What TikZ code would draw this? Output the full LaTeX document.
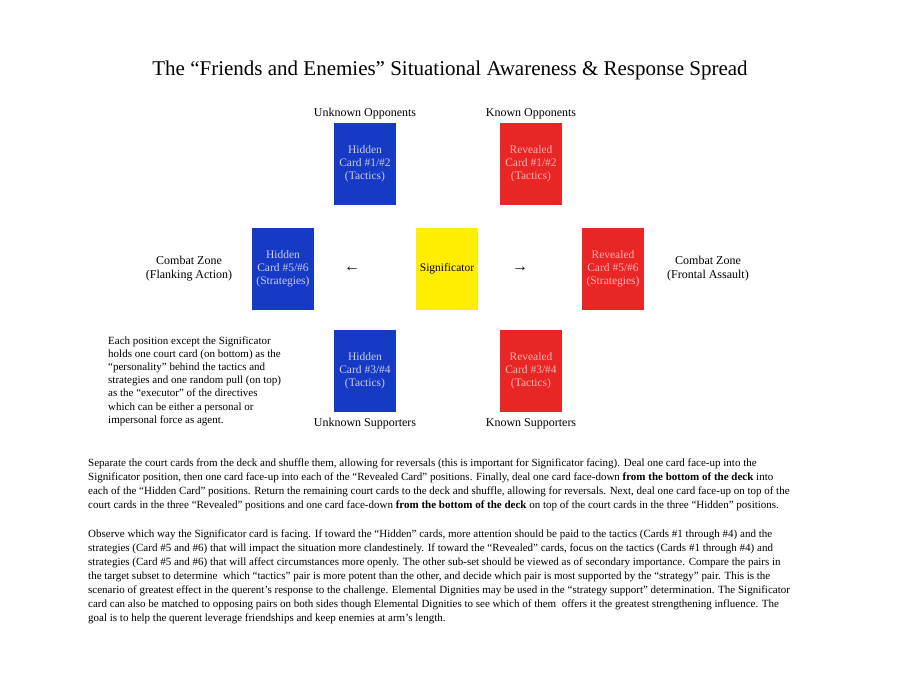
\documentclass[tikz,border=0pt]{standalone}
\usepackage{fontspec}
\setmainfont{Liberation Serif}
\begin{document}
\begin{tikzpicture}[x=1pt,y=-1pt,
 card/.style={minimum width=62pt,minimum height=82pt,inner sep=0pt,align=center,font=\fontsize{11.5}{13}\selectfont},
 hid/.style={card,fill=cblue,text=cbtext},
 rev/.style={card,fill=cred,text=crtext},
 lab/.style={font=\fontsize{12}{14}\selectfont,align=center},
 pl/.style={anchor=base west,inner sep=0pt,font=\fontsize{11}{13}\selectfont}]
\definecolor{cblue}{RGB}{22,58,196}
\definecolor{cred}{RGB}{232,38,38}
\definecolor{cyel}{RGB}{255,238,0}
\definecolor{cbtext}{RGB}{200,205,225}
\definecolor{crtext}{RGB}{245,180,180}
\useasboundingbox[fill=white] (0,0) rectangle (900,695);
\node[font=\fontsize{21}{24}\selectfont] (title) at (450,70) {The “Friends and Enemies” Situational Awareness \& Response Spread};
\node[hid] (h12) at (365,164) {Hidden\\Card \#1/\#2\\(Tactics)};
\node[rev] (r12) at (531,164) {Revealed\\Card \#1/\#2\\(Tactics)};
\node[hid] (h56) at (283,269) {Hidden\\Card \#5/\#6\\(Strategies)};
\node[card,fill=cyel] (sig) at (447,269) {Significator};
\node[rev] (r56) at (613,269) {Revealed\\Card \#5/\#6\\(Strategies)};
\node[hid] (h34) at (365,371) {Hidden\\Card \#3/\#4\\(Tactics)};
\node[rev] (r34) at (531,371) {Revealed\\Card \#3/\#4\\(Tactics)};
\node[lab] (uo) at (365,114) {Unknown Opponents};
\node[lab] (ko) at (531,114) {Known Opponents};
\node[lab] (us) at (365,424) {Unknown Supporters};
\node[lab] (ks) at (531,424) {Known Supporters};
\node[lab] (czl) at (189,269) {Combat Zone\\(Flanking Action)};
\node[lab] (czr) at (708,269) {Combat Zone\\(Frontal Assault)};
\node[font=\fontsize{16}{16}\selectfont] (al) at (352,269) {←};
\node[font=\fontsize{16}{16}\selectfont] (ar) at (520,269) {→};
\foreach \t [count=\i] in {Each position except the Significator,holds one court card (on bottom) as the,“personality” behind the tactics and,strategies and one random pull (on top),as the “executor” of the directives,{which can be either a personal or},impersonal force as agent.}
 \node[pl] (lp\i) at (108,{344+(\i-1)*13.2}) {\t};
\node[pl] (p1a) at (88,466) {Separate the court cards from the deck and shuffle them, allowing for reversals (this is important for Significator facing). Deal one card face-up into the};
\node[pl] (p1b) at (88,480) {Significator position, then one card face-up into each of the “Revealed Card” positions. Finally, deal one card face-down \textbf{from the bottom of the deck} into};
\node[pl] (p1c) at (88,494) {each of the “Hidden Card” positions. Return the remaining court cards to the deck and shuffle, allowing for reversals. Next, deal one card face-up on top of the};
\node[pl] (p1d) at (88,508) {court cards in the three “Revealed” positions and one card face-down \textbf{from the bottom of the deck} on top of the court cards in the three “Hidden” positions.};
\node[pl] (p2a) at (88,537) {Observe which way the Significator card is facing. If toward the “Hidden” cards, more attention should be paid to the tactics (Cards \#1 through \#4) and the};
\node[pl] (p2b) at (88,551) {strategies (Card \#5 and \#6) that will impact the situation more clandestinely. If toward the “Revealed” cards, focus on the tactics (Cards \#1 through \#4) and};
\node[pl] (p2c) at (88,565) {strategies (Card \#5 and \#6) that will affect circumstances more openly. The other sub-set should be viewed as of secondary importance. Compare the pairs in};
\node[pl] (p2d) at (88,579) {the target subset to determine\ \ which “tactics” pair is more potent than the other, and decide which pair is most supported by the “strategy” pair. This is the};
\node[pl] (p2e) at (88,593) {scenario of greatest effect in the querent’s response to the challenge. Elemental Dignities may be used in the “strategy support” determination. The Significator};
\node[pl] (p2f) at (88,607) {card can also be matched to opposing pairs on both sides though Elemental Dignities to see which of them\ \ offers it the greatest strengthening influence. The};
\node[pl] (p2g) at (88,621) {goal is to help the querent leverage friendships and keep enemies at arm’s length.};
\end{tikzpicture}
\end{document}
